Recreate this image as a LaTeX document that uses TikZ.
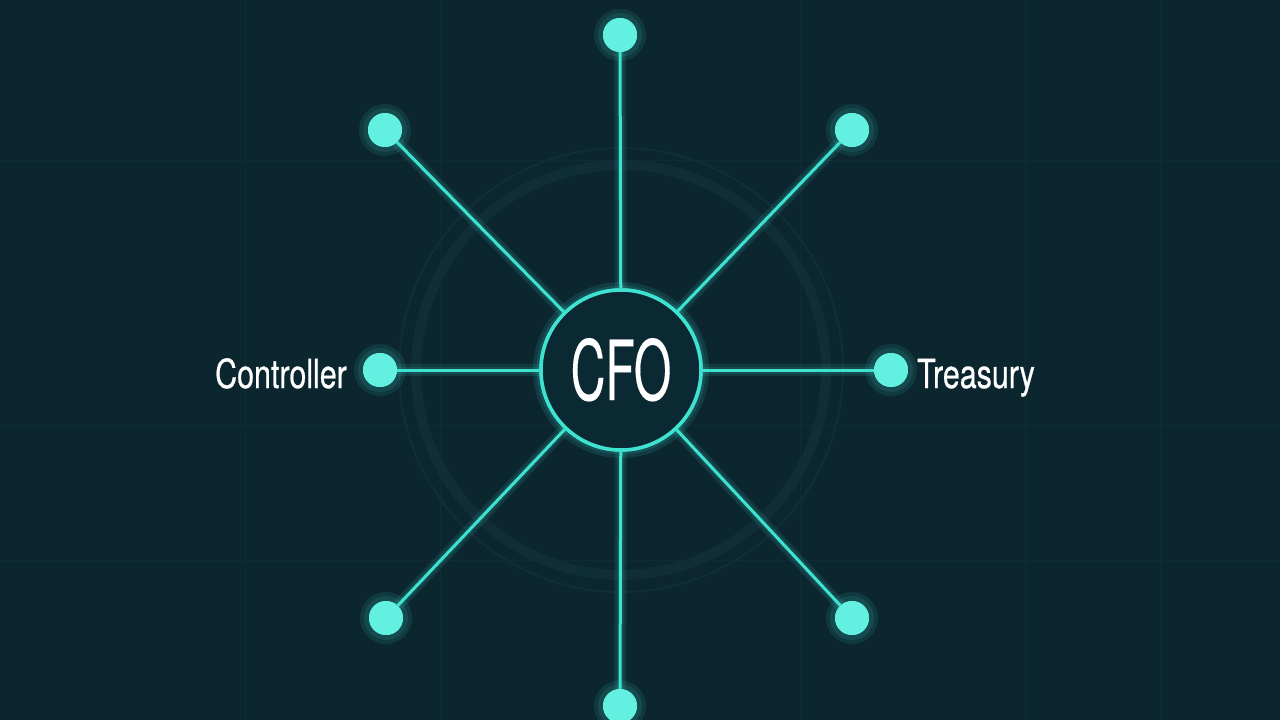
\documentclass[tikz,border=0pt]{standalone}
\usepackage{fontspec}
\newfontfamily\cond[FakeStretch=0.76,FakeBold=0.6]{TeX Gyre Heros}
\newfontfamily\condhub[FakeStretch=0.58,FakeBold=0.1]{TeX Gyre Heros}
\definecolor{bg}{RGB}{12,38,48}
\definecolor{bgin}{RGB}{11,41,51}
\definecolor{cyanline}{RGB}{62,226,208}
\definecolor{dotc}{RGB}{98,240,224}
\definecolor{ring}{RGB}{16,46,56}
\definecolor{gridc}{RGB}{15,43,53}
\tikzset{
  dot/.style={circle,fill=dotc,minimum size=34pt,inner sep=0pt},
  dotglow/.style={circle,fill=cyanline,fill opacity=0.10,minimum size=#1,inner sep=0pt},
  hub/.style={circle,draw=cyanline,line width=3.5pt,fill=bgin,minimum size=160pt,inner sep=0pt},
  hubglow/.style={circle,draw=cyanline,draw opacity=0.12,line width=#1,minimum size=160pt,inner sep=0pt},
  spoke/.style={draw=cyanline,line width=3pt},
  spokeglow/.style={draw=cyanline,line width=#1,draw opacity=0.10},
  lbl/.style={text=white,font=\cond\fontsize{40}{40}\selectfont,inner sep=0pt},
}
\begin{document}
\begin{tikzpicture}[x=1pt,y=-1pt]
\fill[bg] (0,0) rectangle (1280,720);
\useasboundingbox (0,0) rectangle (1280,720);
% faint background grid
\foreach \x in {245,440,800,1025,1160}
  \draw[gridc,line width=1pt] (\x,0) -- (\x,720);
\foreach \y in {160,425,560}
  \draw[gridc,line width=1pt] (0,\y) -- (1280,\y);
% faint rings
\draw[ring,line width=10pt] (621,370) circle (205pt);
\draw[ring,line width=2pt] (621,370) circle (222pt);
% nodes
\node[hub] (cfo) at (621,370) {};
\node[dot] (t) at (620,35) {};
\node[dot] (b) at (620,706) {};
\node[dot] (l) at (380,370) {};
\node[dot] (r) at (891,370) {};
\node[dot] (tl) at (385,130) {};
\node[dot] (tr) at (852,130) {};
\node[dot] (bl) at (386,618) {};
\node[dot] (br) at (852,618) {};
% glows
\foreach \n in {t,b,l,r,tl,tr,bl,br}{
  \draw[spokeglow=12pt] (cfo) -- (\n);
  \draw[spokeglow=7pt] (cfo) -- (\n);
  \node[dotglow=52pt] at (\n) {};
  \node[dotglow=44pt] at (\n) {};
}
\node[hubglow=16pt] at (cfo) {};
\node[hubglow=9pt] at (cfo) {};
% spokes
\foreach \n in {t,b,l,r,tl,tr,bl,br}
  \draw[spoke] (cfo) -- (\n);
\node[hub] at (cfo) {};
\node[text=white,font=\condhub\fontsize{83}{83}\selectfont,inner sep=0pt,anchor=base] (cfotext) at (621,400) {CFO};
\foreach \n in {t,b,l,r,tl,tr,bl,br}
  \node[dot] at (\n) {};
% labels
\node[lbl,anchor=base east] (ctrl) at (347,388) {Controller};
\node[lbl,anchor=base west] (treas) at (917,388) {Treasury};
\end{tikzpicture}
\end{document}
